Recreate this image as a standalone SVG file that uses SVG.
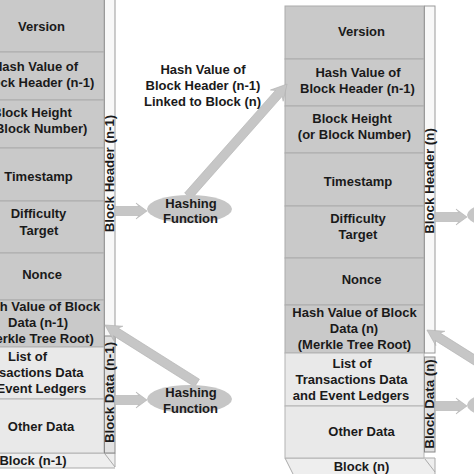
<svg xmlns="http://www.w3.org/2000/svg" width="474" height="474" viewBox="0 0 474 474">
<style>
.t{font-family:"Liberation Sans",Arial,sans-serif;font-weight:bold;font-size:13px;fill:#1a1a1a;text-anchor:middle}
.rt{font-family:"Liberation Sans",Arial,sans-serif;font-weight:bold;font-size:13.3px;fill:#1a1a1a;text-anchor:middle}
.hc{fill:#c9c9c9;stroke:#acacac;stroke-width:1}
.dc{fill:#e9e9e9;stroke:#b4b4b4;stroke-width:1}
.base{fill:#eeeeee;stroke:none}
.edge{fill:none;stroke:#aaaaaa;stroke-width:1}
.bar{fill:#f8f8f8;stroke:#9a9a9a;stroke-width:1}
.dbox{fill:#e2e2e2;stroke:#888888;stroke-width:1}
.arr{fill:#c6c6c6;stroke:#b2b2b2;stroke-width:0.6}
.ell{fill:#c6c6c6;stroke:none}
</style>
<defs>
<polygon id="hArrow" points="0,-4.5 24,-4.5 21,-8 32,0 21,8 24,4.5 0,4.5"/>
</defs>

<!-- Left block (n-1) -->
<g id="block-n-1">
  <polygon class="base" points="-35,453 115,453 115,468 -27,468"/>
  <line class="edge" x1="-35" y1="453" x2="115" y2="453"/>
  <line class="edge" x1="105" y1="454" x2="115" y2="467"/>
  <line class="edge" x1="-35" y1="468" x2="115" y2="468"/>
  <line class="edge" x1="115" y1="453" x2="115" y2="467"/>
  <text class="t" x="33" y="465">Block (n-1)</text>
</g>
<g id="l-version"><rect class="hc" x="-35" y="-10" width="139" height="62"/><text class="t" x="41.5" y="30.5">Version</text></g>
<g id="l-prevhash"><rect class="hc" x="-35" y="52" width="139" height="48"/><text class="t" x="35.5" y="70.5">Hash Value of</text><text class="t" x="37" y="87">Block Header (n-1)</text></g>
<g id="l-height"><rect class="hc" x="-35" y="100" width="139" height="48"/><text class="t" x="32" y="117">Block Height</text><text class="t" x="39" y="133">(Block Number)</text></g>
<g id="l-timestamp"><rect class="hc" x="-35" y="148" width="139" height="53"/><text class="t" x="38.5" y="180.5">Timestamp</text></g>
<g id="l-difficulty"><rect class="hc" x="-35" y="201" width="139" height="52"/><text class="t" x="38.5" y="218">Difficulty</text><text class="t" x="39" y="234.5">Target</text></g>
<g id="l-nonce"><rect class="hc" x="-35" y="253" width="139" height="47"/><text class="t" x="42" y="278.5">Nonce</text></g>
<g id="l-merkle"><rect class="hc" x="-35" y="300" width="139" height="47"/><text class="t" x="38" y="311">Hash Value of Block</text><text class="t" x="38" y="327">Data (n-1)</text><text class="t" x="37" y="343">(Merkle Tree Root)</text></g>
<g id="l-txlist"><rect class="dc" x="-35" y="347" width="139" height="52"/><text class="t" x="27.5" y="361">List of</text><text class="t" x="27.5" y="377">Transactions Data</text><text class="t" x="28" y="393">and Event Ledgers</text></g>
<g id="l-other"><rect class="dc" x="-35" y="399" width="139" height="54"/><text class="t" x="41" y="430.5">Other Data</text></g>
<g id="l-header-bar"><rect class="bar" x="104.5" y="-5" width="10.5" height="352"/><text class="rt" transform="translate(114,173.5) rotate(-90)">Block Header (n-1)</text></g>
<g id="l-data-bar"><rect class="dbox" x="104.5" y="336" width="10.5" height="117"/><text class="rt" transform="translate(114,392.5) rotate(-90)">Block Data (n-1)</text></g>

<!-- Right block (n) -->
<g id="block-n">
  <polygon class="base" points="285,458 435,458 435,474 293,474"/>
  <line class="edge" x1="285" y1="458" x2="435" y2="458"/>
  <line class="edge" x1="285" y1="458" x2="293" y2="474"/>
  <line class="edge" x1="425" y1="459" x2="435" y2="472"/>
  <line class="edge" x1="435" y1="458" x2="435" y2="474"/>
  <text class="t" x="361.5" y="470.5">Block (n)</text>
</g>
<g id="r-version"><rect class="hc" x="285" y="6" width="139" height="53"/><text class="t" x="361.5" y="36">Version</text></g>
<g id="r-prevhash"><rect class="hc" x="285" y="59" width="139" height="47"/><text class="t" x="358" y="77">Hash Value of</text><text class="t" x="357.5" y="92.5">Block Header (n-1)</text></g>
<g id="r-height"><rect class="hc" x="285" y="106" width="139" height="47"/><text class="t" x="352" y="123">Block Height</text><text class="t" x="354.5" y="139">(or Block Number)</text></g>
<g id="r-timestamp"><rect class="hc" x="285" y="153" width="139" height="53"/><text class="t" x="358" y="186">Timestamp</text></g>
<g id="r-difficulty"><rect class="hc" x="285" y="206" width="139" height="52"/><text class="t" x="358" y="223">Difficulty</text><text class="t" x="358" y="239">Target</text></g>
<g id="r-nonce"><rect class="hc" x="285" y="258" width="139" height="47"/><text class="t" x="361.5" y="284">Nonce</text></g>
<g id="r-merkle"><rect class="hc" x="285" y="305" width="139" height="48"/><text class="t" x="354.5" y="317">Hash Value of Block</text><text class="t" x="354" y="333">Data (n)</text><text class="t" x="354.5" y="349">(Merkle Tree Root)</text></g>
<g id="r-txlist"><rect class="dc" x="285" y="353" width="139" height="53"/><text class="t" x="352" y="368">List of</text><text class="t" x="351.5" y="384">Transactions Data</text><text class="t" x="351" y="400">and Event Ledgers</text></g>
<g id="r-other"><rect class="dc" x="285" y="406" width="139" height="52"/><text class="t" x="361.5" y="436">Other Data</text></g>
<g id="r-header-bar"><rect class="bar" x="424.5" y="6" width="10.5" height="347"/><text class="rt" transform="translate(434,181) rotate(-90)">Block Header (n)</text></g>
<g id="r-data-bar"><rect class="dbox" x="424.5" y="357" width="10.5" height="95"/><text class="rt" transform="translate(434,404) rotate(-90)">Block Data (n)</text></g>

<!-- Connectors -->
<g id="connectors">
  <use href="#hArrow" class="arr" transform="translate(115,211)"/>
  <use href="#hArrow" class="arr" transform="translate(115,400)"/>
  <use href="#hArrow" class="arr" transform="translate(435,217)"/>
  <use href="#hArrow" class="arr" transform="translate(435,406)"/>
  <polygon class="arr" transform="translate(188,196) rotate(-48.5)" points="0,-4.5 137,-4.5 134,-8.5 149.5,0 134,8.5 137,4.5 0,4.5"/>
  <polygon class="arr" transform="translate(197,383) rotate(-147.8)" points="0,-4.5 96,-4.5 93,-8.5 108.8,0 93,8.5 96,4.5 0,4.5"/>
  <polygon class="arr" transform="translate(519,388) rotate(-147.8)" points="0,-4.5 96,-4.5 93,-8.5 108.8,0 93,8.5 96,4.5 0,4.5"/>
</g>

<!-- Hashing functions -->
<g id="hash-header-n-1"><ellipse class="ell" cx="189.5" cy="209" rx="42.5" ry="14"/><text class="t" x="191" y="207.5">Hashing</text><text class="t" x="190.5" y="223">Function</text></g>
<g id="hash-data-n-1"><ellipse class="ell" cx="189.5" cy="399" rx="42.5" ry="14"/><text class="t" x="191" y="397">Hashing</text><text class="t" x="190.5" y="412.5">Function</text></g>
<g id="hash-header-n"><ellipse class="ell" cx="509.5" cy="215" rx="42.5" ry="14"/></g>
<g id="hash-data-n"><ellipse class="ell" cx="509.5" cy="405" rx="42.5" ry="14"/></g>

<g id="link-label"><text class="t" x="203" y="74">Hash Value of</text><text class="t" x="203" y="90">Block Header (n-1)</text><text class="t" x="202.5" y="106">Linked to Block (n)</text></g>
</svg>
